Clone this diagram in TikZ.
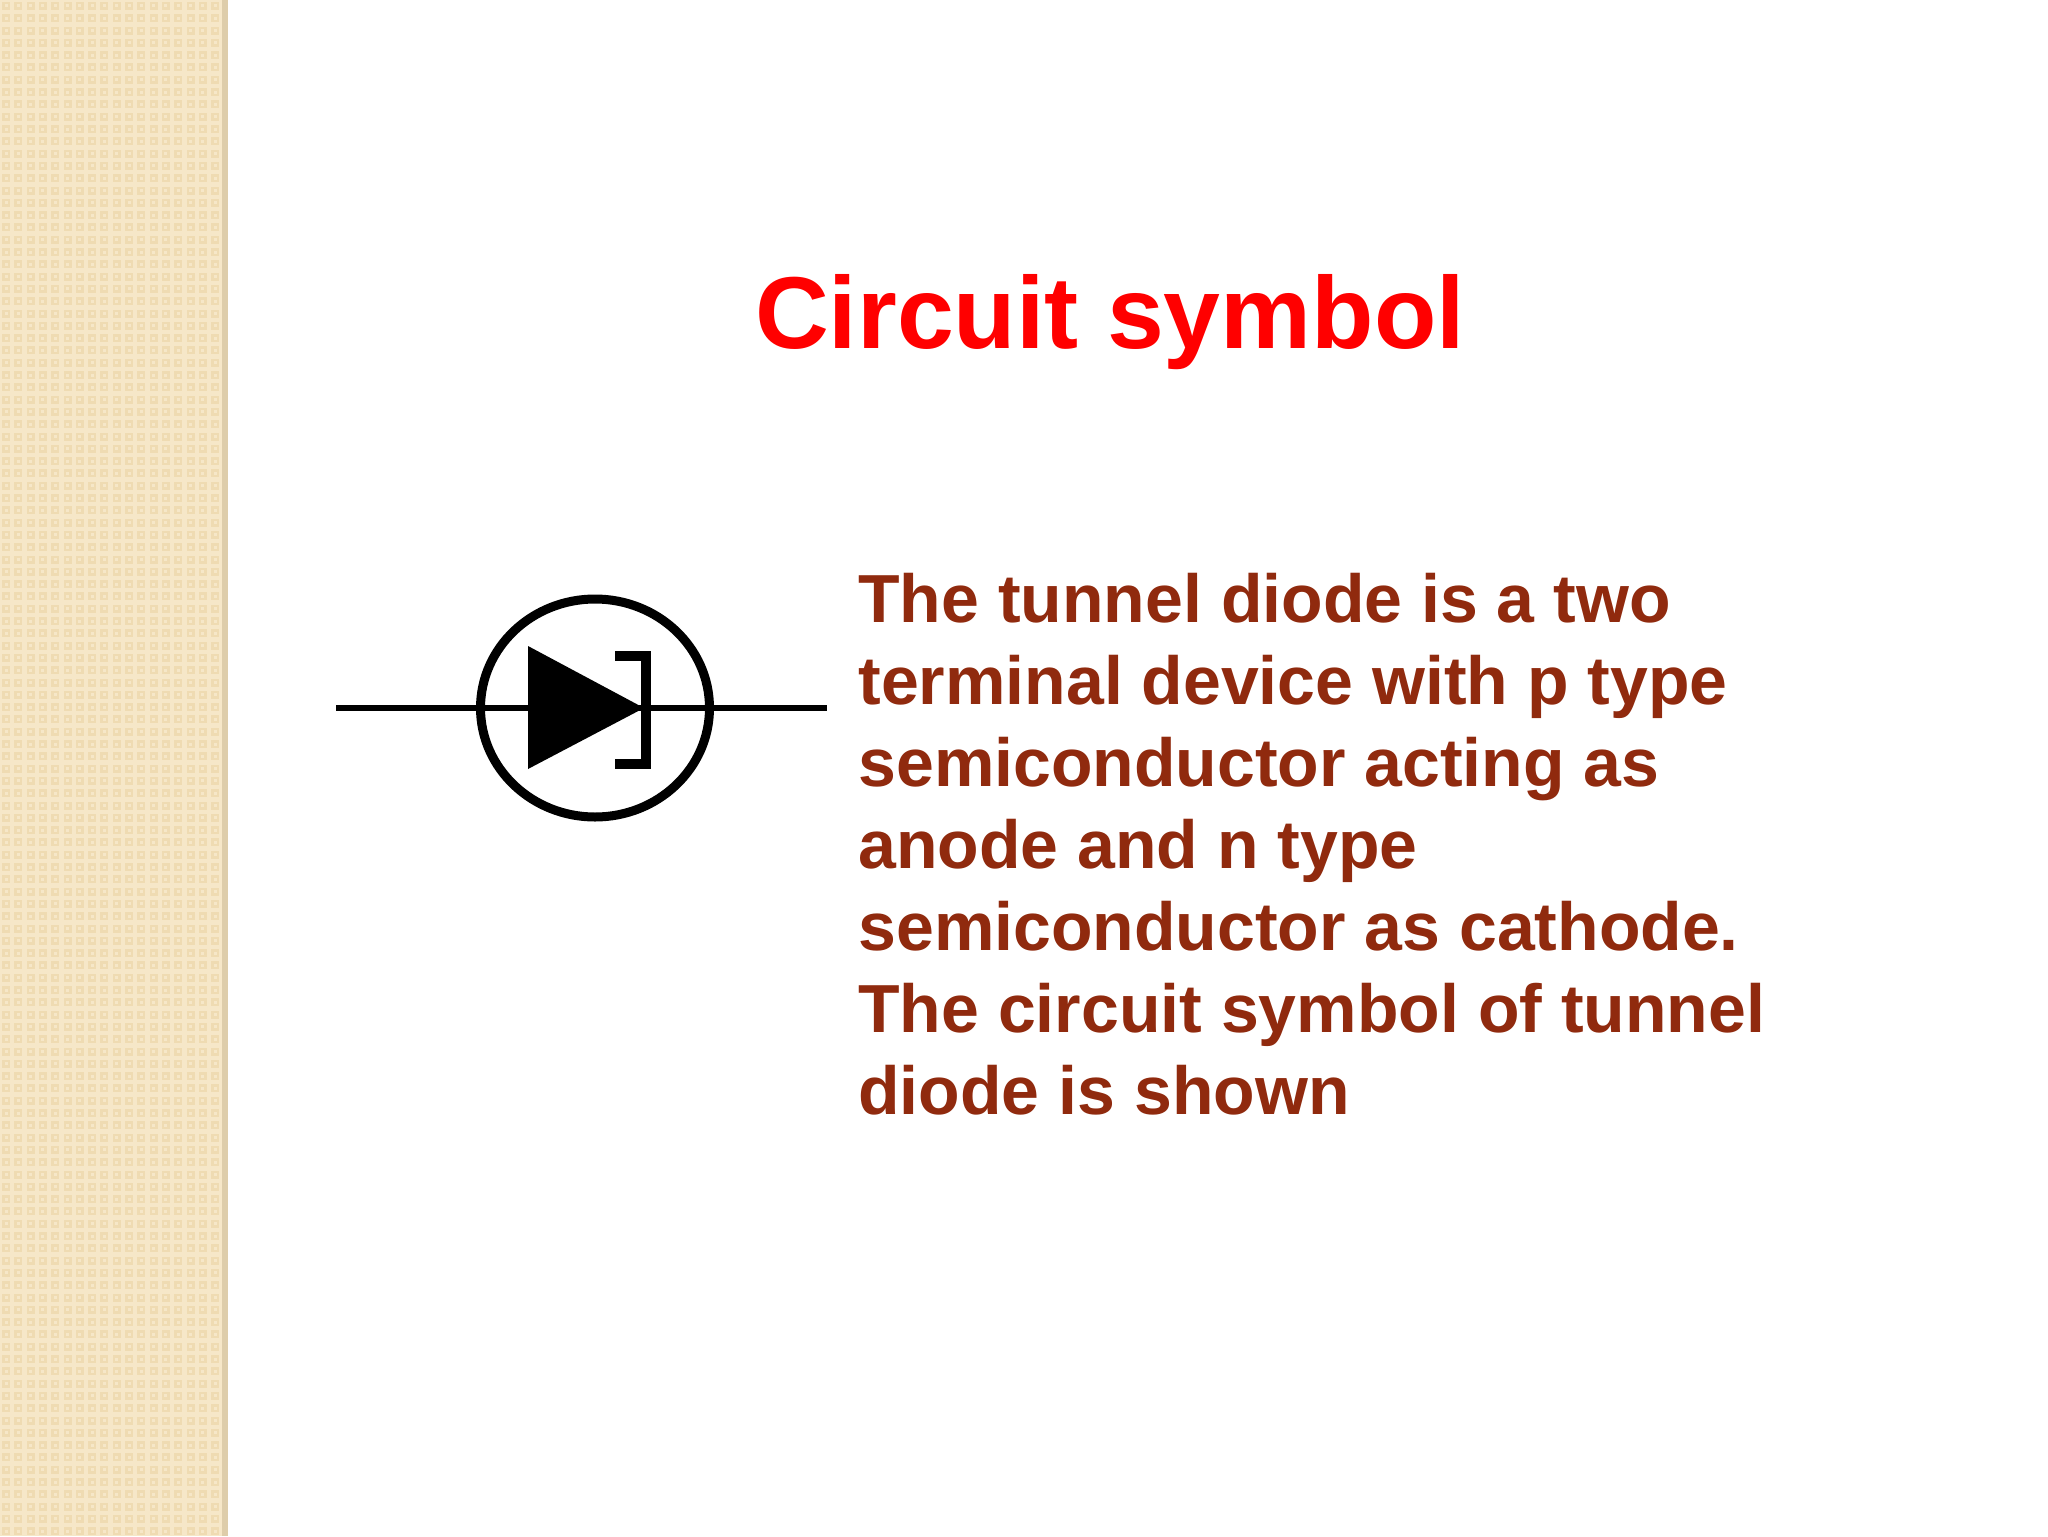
\documentclass[tikz,border=0pt]{standalone}
\usepackage{fontspec}
\setmainfont{Liberation Sans}
\usetikzlibrary{calc}
\usetikzlibrary{shapes.geometric}
\definecolor{stripbase}{RGB}{246,231,200}
\definecolor{stripdark}{RGB}{239,219,178}
\definecolor{stripedge}{RGB}{222,205,170}
\definecolor{titlered}{RGB}{255,0,0}
\definecolor{bodybrown}{RGB}{144,42,14}
\tikzset{
 symbolline/.style={black, line width=3.25pt},
 titletext/.style={text=titlered, font=\fontsize{51.1}{60}\selectfont\bfseries, inner sep=0},
 bodytext/.style={text=bodybrown, font=\fontsize{34}{41}\selectfont\bfseries, align=left, anchor=north west, inner sep=0}
}
\begin{document}
\begin{tikzpicture}[x=.5pt, y=-.5pt]
\useasboundingbox (0,0) rectangle (2048,1536);
\fill[white] (0,0) rectangle (2048,1536);
% side strip
\fill[stripbase] (0,0) rectangle (224,1536);
\foreach \x in {0,...,18} {
 \foreach \y in {0,...,128} {
  \fill[stripdark] (12.3*\x+2,12.3*\y+2) rectangle ++(8,2.5);
  \fill[stripdark] (12.3*\x+2,12.3*\y+7.5) rectangle ++(8,2.5);
  \fill[stripdark] (12.3*\x+2,12.3*\y+4.5) rectangle ++(2.5,3);
  \fill[stripdark] (12.3*\x+7.5,12.3*\y+4.5) rectangle ++(2.5,3);
 }
}
\fill[white] (224,0) rectangle (240,1536);
\fill[stripedge] (222,0) rectangle (228,1536);
% symbol
\coordinate (leadL) at (336,708);
\coordinate (leadR) at (827,708);
\draw[symbolline] (leadL)--(leadR);
\node (ring) [ellipse, draw, black, line width=4.5pt, minimum width=114.5pt, minimum height=109pt, inner sep=0] at (595,708) {};
\fill[black] (528,646)--(528,769)--(644,708)--cycle;
\draw[black, line width=5pt] (615,655.5)--(646,655.5)--(646,764)--(615,764);
% text
\node (title) [titletext] at (1110,322) {Circuit symbol};
\node (body) [bodytext] at (858,573) {The tunnel diode is a two\\
terminal device with p type\\
semiconductor acting as\\
anode and n type\\
semiconductor as cathode.\\
The circuit symbol of tunnel\\
diode is shown};
\end{tikzpicture}
\end{document}
